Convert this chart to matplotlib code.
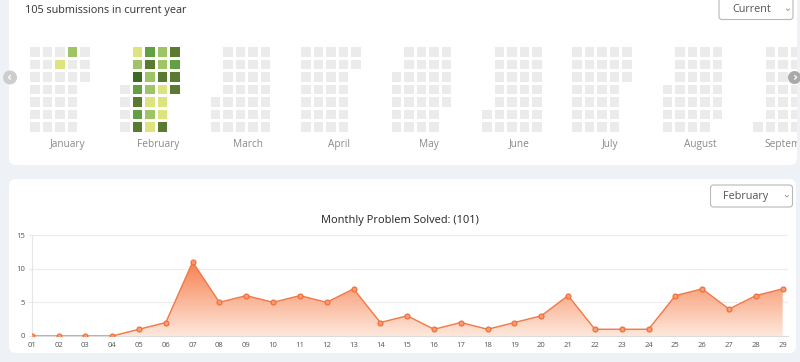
import calendar
from datetime import date

import numpy as np
import matplotlib
matplotlib.use("Agg")
from matplotlib import pyplot as plt
from matplotlib.patches import Rectangle, FancyBboxPatch, Circle, PathPatch
from matplotlib.colors import LinearSegmentedColormap

plt.rcParams['font.family'] = ['Open Sans', 'DejaVu Sans']

# ---- data ----
year = 2024
months = ["January", "February", "March", "April", "May", "June",
          "July", "August", "September"]
jan_days = [16, 22]
jan_counts = [1, 3]
feb_labels = ["%02d" % d for d in range(1, 30)]
feb_solved = [0, 0, 0, 0, 1, 2, 11, 5, 6, 5, 6, 5, 7, 2, 3, 1, 2, 1, 2, 3,
              6, 1, 1, 1, 6, 7, 4, 6, 7]
total_submissions = 105

# heatmap colour steps (upper bound of each step)
level_bounds = [0, 1, 3, 5, 10]
level_colors = ["#ebebeb", "#dde47f", "#9dc566", "#62a043", "#5b7a31", "#3b6a21"]

W, H = 800, 362
fig = plt.figure(figsize=(8, 3.62), dpi=100)


def px_box(x0, y0, x1, y1):
    return [x0 / W, 1 - y1 / H, (x1 - x0) / W, (y1 - y0) / H]


# page + cards
bg = fig.add_axes([0, 0, 1, 1])
bg.set_xlim(0, W)
bg.set_ylim(H, 0)
bg.axis("off")
bg.add_patch(Rectangle((0, 0), W, H, color="#eef1f5", zorder=0))
bg.add_patch(FancyBboxPatch((9, -10), 788, 175, boxstyle="round,pad=0,rounding_size=7",
                            fc="white", ec="none", zorder=1))
bg.add_patch(FancyBboxPatch((9, 179), 787, 174, boxstyle="round,pad=0,rounding_size=7",
                            fc="white", ec="none", zorder=1))
bg.text(25, 10, "%d submissions in current year" % total_submissions, fontsize=7.8,
        color="#333333", va="center", ha="left", zorder=2)
bg.text(400, 221, "Monthly Problem Solved: (%d)" % sum(feb_solved), fontsize=7.9,
        color="#222222", ha="center", va="center", zorder=2)

# ---- heatmap ----
pitch = 12.5
hm = fig.add_axes(px_box(9, 40, 797, 155))
hm.set_xlim(9 / pitch, 797 / pitch)
hm.set_ylim(115 / pitch, 0)
hm.axis("off")
hm.patch.set_alpha(0)

counts = {(1, d): c for d, c in zip(jan_days, jan_counts)}
for d, c in enumerate(feb_solved, start=1):
    counts[(2, d)] = c

month_step = 90.4 / pitch
for i, name in enumerate(months):
    m = i + 1
    x0 = 30 / pitch + i * month_step
    first_wd, ndays = calendar.monthrange(year, m)
    for d in range(1, ndays + 1):
        k = first_wd + d - 1
        col, row = k // 7, k % 7
        val = counts.get((m, d), 0)
        c = level_colors[np.searchsorted(level_bounds, val)]
        hm.add_patch(Rectangle((x0 + col, 0.584 + row), 0.76, 0.76, fc=c, ec="none"))
    hm.text(x0 + 3, 104 / pitch, name, ha="center", va="center", fontsize=7.3,
            color="#8a8a8a", clip_on=True)

# ---- line chart ----
ax = fig.add_axes(px_box(31.7, 235, 788, 336))
ax.patch.set_alpha(0)
x = np.arange(len(feb_solved))
y = np.array(feb_solved)

poly = ax.fill_between(x, y, 0, color="none")
cmap = LinearSegmentedColormap.from_list("fade", ["#fde8dc", "#f7804f"])
grad = np.linspace(0, 1, 256).reshape(-1, 1)
img = ax.imshow(grad, extent=[0, 28.2, 0, y.max()], origin="lower", aspect="auto",
                cmap=cmap, zorder=1)
clip = PathPatch(poly.get_paths()[0], transform=ax.transData, fc="none", ec="none")
ax.add_patch(clip)
img.set_clip_path(clip)

ax.plot(x, y, color="#f27845", lw=1, zorder=3)
ax.plot(x, y, "o", ms=3.6, mfc="#f89a72", mec="#f06b38", mew=0.8, zorder=4)

ax.set_xlim(0, 28.2)
ax.set_ylim(0, 15)
ax.set_yticks([0, 5, 10, 15])
ax.set_xticks(x)
ax.set_xticklabels(feb_labels)
ax.grid(axis="y", color="#ececec", lw=0.8)
ax.set_axisbelow(True)
for s in ["top", "right"]:
    ax.spines[s].set_visible(False)
ax.spines["left"].set_color("#e6e6e6")
ax.spines["bottom"].set_color("#dcdcdc")
ax.spines["left"].set_linewidth(0.8)
ax.spines["bottom"].set_linewidth(0.8)
ax.tick_params(axis="y", length=2.5, color="#e6e6e6", pad=2.5, labelsize=5.5,
               labelcolor="#555555")
ax.tick_params(axis="x", length=0, pad=4.5, labelsize=5.5, labelcolor="#555555")

# ---- overlay: selects + arrows ----
fg = fig.add_axes([0, 0, 1, 1])
fg.set_xlim(0, W)
fg.set_ylim(H, 0)
fg.axis("off")
fg.patch.set_alpha(0)
fg.add_patch(FancyBboxPatch((719, -4), 74, 23.5, boxstyle="round,pad=0,rounding_size=3",
                            fc="white", ec="#b8b8b8", lw=0.8))
fg.text(752, 9.5, "Current", fontsize=7.8, color="#555555", ha="center", va="center")
fg.plot([786.3, 787.8, 789.3], [9, 10.5, 9], color="#8a8a8a", lw=0.6)
fg.add_patch(FancyBboxPatch((710.5, 185), 82, 22, boxstyle="round,pad=0,rounding_size=3",
                            fc="white", ec="#b8b8b8", lw=0.8))
fg.text(746, 196, "February", fontsize=7.8, color="#555555", ha="center", va="center")
fg.plot([785.3, 786.8, 788.3], [195.5, 197, 195.5], color="#8a8a8a", lw=0.6)
fg.add_patch(Circle((10, 77.5), 7, fc="#cdcdcd", ec="none"))
fg.text(9.5, 77, "‹", fontsize=9, color="white", ha="center", va="center",
        fontweight="bold", family="DejaVu Sans")
fg.add_patch(Circle((794.5, 77.5), 6.5, fc="#a9a9a9", ec="none"))
fg.text(795, 77, "›", fontsize=9, color="white", ha="center", va="center",
        fontweight="bold", family="DejaVu Sans")

fig.savefig("out.png", dpi=100)
